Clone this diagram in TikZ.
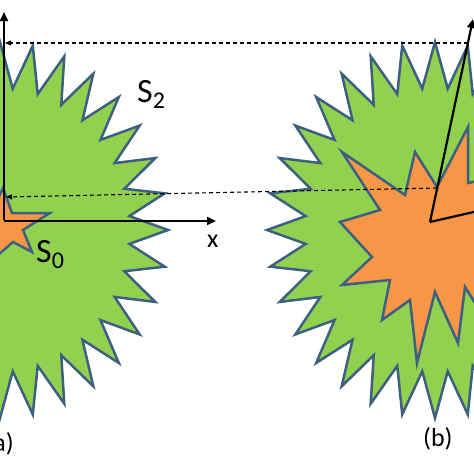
\documentclass[tikz,border=0pt]{standalone}
\usepackage{fontspec}
\setmainfont{Carlito}
\usetikzlibrary{arrows.meta}

\definecolor{stargreen}{RGB}{146,208,80}
\definecolor{starorange}{RGB}{247,150,70}
\definecolor{staredge}{RGB}{62,96,128}
\newcommand{\lowidx}[1]{{\fontsize{24}{28}\selectfont\raisebox{-6pt}{#1}}}

\begin{document}
\begin{tikzpicture}[
  x=1pt, y=-1pt,
  greenstar/.style={fill=stargreen, draw=staredge, line width=2.5pt},
  orangestar/.style={fill=starorange, draw=staredge, line width=2.5pt},
  axis/.style={line width=2.2pt, -{Triangle[length=9pt,width=8pt]}},
  proj/.style={dash pattern=on 4pt off 3pt, line width=1.1pt,
    -{Triangle[length=6pt,width=5pt]}},
  lbl/.style={inner sep=0pt, font=\fontsize{34}{40}\selectfont},
  captext/.style={inner sep=0pt, font=\fontsize{26}{30}\selectfont}
]
  \useasboundingbox (0,0) rectangle (474,474);
  \clip (0,0) rectangle (474,474);

  % the two 32-point stars
  \foreach \cx in {0,435}
    \draw[greenstar] (\cx+168,230)
      \foreach \k in {1,...,63}{
        -- ({\cx+(168-38*isodd(\k))*cos(\k*5.625)},
            {230-(188-46*isodd(\k))*sin(\k*5.625)})
      } -- cycle;

  % small star S0
  \draw[orangestar] (3,188) -- (12,213) -- (50,213) -- (23,230) -- (32,252)
    -- (13,242) -- (-10,262) -- (-8,232) -- (-30,215) -- (-5,205) -- cycle;

  % big star in (b)
  \draw[orangestar] (342,152) -- (405,195) -- (415,152) -- (437,187)
    -- (468,127) -- (468,183) -- (520,172) -- (500,215) -- (560,240)
    -- (505,265) -- (495,335) -- (465,287) -- (458,343) -- (435,292)
    -- (417,363) -- (410,300) -- (382,320) -- (390,280) -- (342,285)
    -- (372,257) -- (340,222) -- (380,210) -- cycle;

  % frames
  \coordinate (oa) at (4,221);
  \coordinate (xa) at (216,221);
  \coordinate (ya) at (4,12);
  \coordinate (ob) at (430,222);
  \coordinate (vb) at (473,19);
  \coordinate (wb) at (500,206);

  % projections
  \coordinate (p1) at (468,43);
  \coordinate (q1) at (5,43);
  \coordinate (p2) at (437,188);
  \coordinate (q2) at (6,197);
  \draw[proj] (p1) -- (q1);
  \draw[proj] (p2) -- (q2);

  \draw[axis] (oa) -- (xa);
  \draw[axis] ([yshift=1.1pt]oa) -- (ya);
  \draw[axis] (ob) -- (vb);
  \draw[line width=2.2pt] (ob) -- (wb);

  % labels
  \node[lbl, anchor=base west] (s2) at (137,102) {S\lowidx{2}};
  \node[lbl, anchor=base west] (s0) at (36,262) {S\lowidx{0}};
  \node[captext, anchor=base west] (xl) at (207,247) {x};
  \node[captext, anchor=base east] (ca) at (14,451) {(a)};
  \node[captext, anchor=base west] (cb) at (423,446) {(b)};
\end{tikzpicture}
\end{document}
